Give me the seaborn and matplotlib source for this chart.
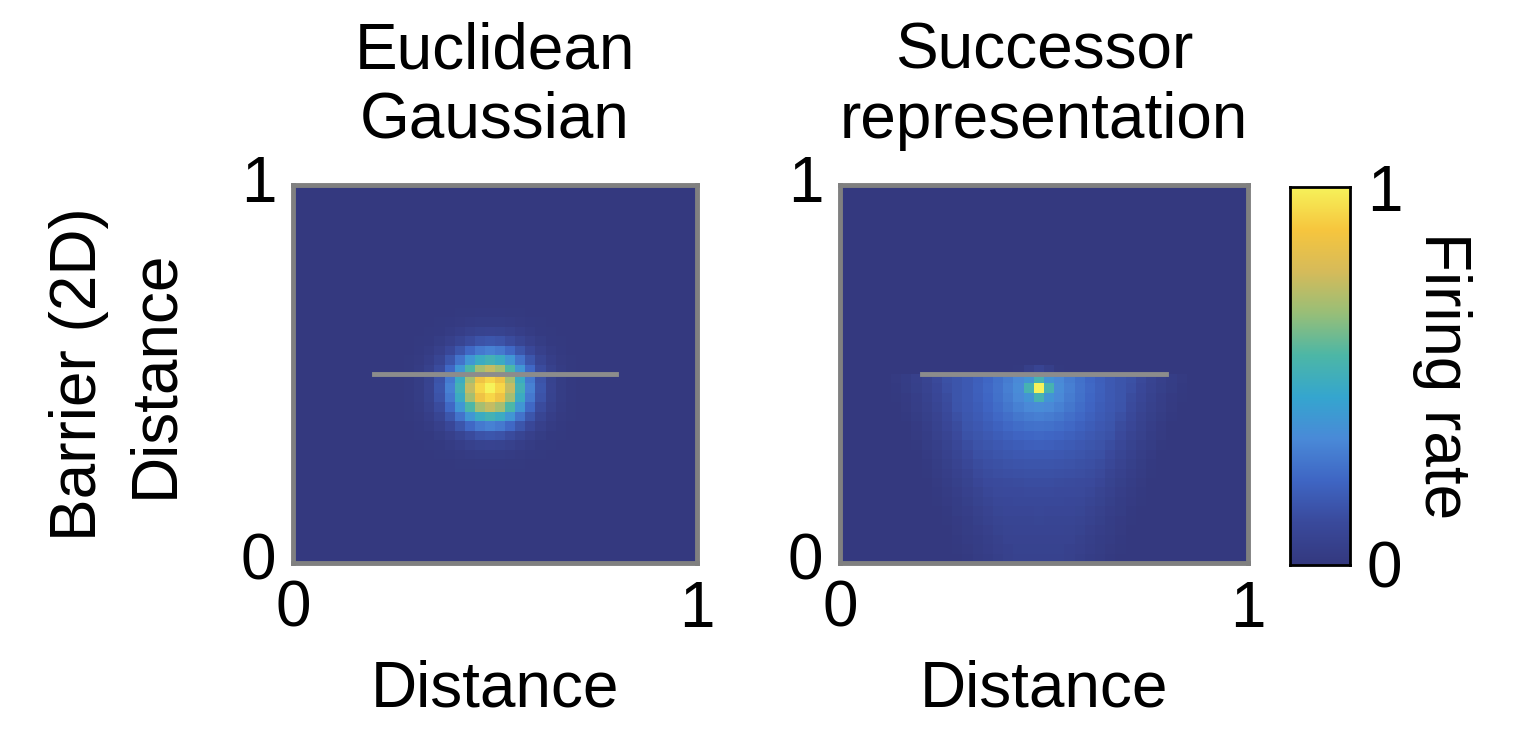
import numpy as np
import matplotlib.pyplot as plt
import seaborn as sns
from matplotlib.colors import LinearSegmentedColormap

# parameters
n_bins = 40
field_center = (0.4875, 0.4625)  # x, y of the place field peak
gauss_sigma = 0.065              # Euclidean Gaussian width
sr_peak_sigma = 0.022            # sharp peak of the successor field
sr_spread = 0.16                 # spread of the diffuse part below the barrier
sr_diffuse_amp = 0.42
sr_floor = 0.035
sr_top_halfwidth = 0.38          # half-width of the reachable region at the barrier
sr_bottom_halfwidth = 0.2        # ... and at the bottom wall
barrier_y = 0.5
barrier_x = [0.2, 0.8]
titles = ["Euclidean\nGaussian", "Successor\nrepresentation"]

parula = LinearSegmentedColormap.from_list("parula", [
    "#34397f", "#3a4a9c", "#3f66c4", "#4a8ad8", "#35a6cf",
    "#4db7a6", "#98bf78", "#d6bb5a", "#f7c63e", "#f6f25a"])

c = (np.arange(n_bins) + 0.5) / n_bins
X, Y = np.meshgrid(c, c)
d2 = (X - field_center[0])**2 + (Y - field_center[1])**2
euclid = np.exp(-d2 / (2 * gauss_sigma**2))

# successor map: sharp peak + diffuse mass only reachable below the barrier
peak = np.exp(-d2 / (2 * sr_peak_sigma**2))
below = Y < barrier_y
depth = (barrier_y - Y) / barrier_y
halfw = sr_top_halfwidth + (sr_bottom_halfwidth - sr_top_halfwidth) * depth
edge = np.clip((halfw - np.abs(X - field_center[0])) / 0.15, 0, 1)
diffuse = sr_diffuse_amp * np.exp(-np.sqrt(d2) / sr_spread) * edge * below
diffuse += sr_floor * edge * below
successor = np.maximum(peak, diffuse)
successor /= successor.max()

maps = [euclid, successor]

fig = plt.figure(figsize=(15.36, 7.29), dpi=100)
plt.rcParams['font.family'] = ['Liberation Sans', 'DejaVu Sans']
fs = 46
W, H = 1536, 729
axes_px = [(293, 185, 404, 378), (840, 185, 408, 378)]
for i, (m, (x0, y0, w, h)) in enumerate(zip(maps, axes_px)):
    ax = fig.add_axes([x0 / W, 1 - (y0 + h) / H, w / W, h / H])
    sns.heatmap(m[::-1], cmap=parula, vmin=0, vmax=1, cbar=False, ax=ax)
    ax.plot([barrier_x[0] * n_bins, barrier_x[1] * n_bins],
            [(1 - barrier_y) * n_bins] * 2, color="#8c8c8c", lw=3.5)
    ax.set_xticks([0, n_bins]); ax.set_xticklabels(["0", "1"])
    ax.set_yticks([n_bins, 0]); ax.set_yticklabels(["0", "1"], rotation=0)
    ax.tick_params(length=0, labelsize=fs, pad=12)
    for s in ax.spines.values():
        s.set_visible(True); s.set_color("#808080"); s.set_linewidth(3.5)
    ax.set_xlabel("Distance", fontsize=fs, labelpad=14)
    ax.set_title(titles[i], fontsize=fs, pad=34, linespacing=1.2)
    if i == 0:
        ax.set_ylabel("Barrier (2D)\nDistance", fontsize=fs, labelpad=40,
                      linespacing=1.35)

cax = fig.add_axes([1290 / W, 1 - 565 / H, 60 / W, 378 / H])
grad = np.linspace(1, 0, 256)[:, None]
cax.imshow(grad, aspect="auto", cmap=parula, vmin=0, vmax=1)
cax.set_xticks([])
cax.yaxis.tick_right()
cax.set_yticks([0, 255]); cax.set_yticklabels(["1", "0"])
cax.tick_params(length=0, labelsize=fs, pad=12)
for s in cax.spines.values():
    s.set_color("black"); s.set_linewidth(2)
cax.yaxis.set_label_position("right")
cax.set_ylabel("Firing rate", fontsize=fs, rotation=270, labelpad=50)

fig.savefig("out.png", dpi=100)
